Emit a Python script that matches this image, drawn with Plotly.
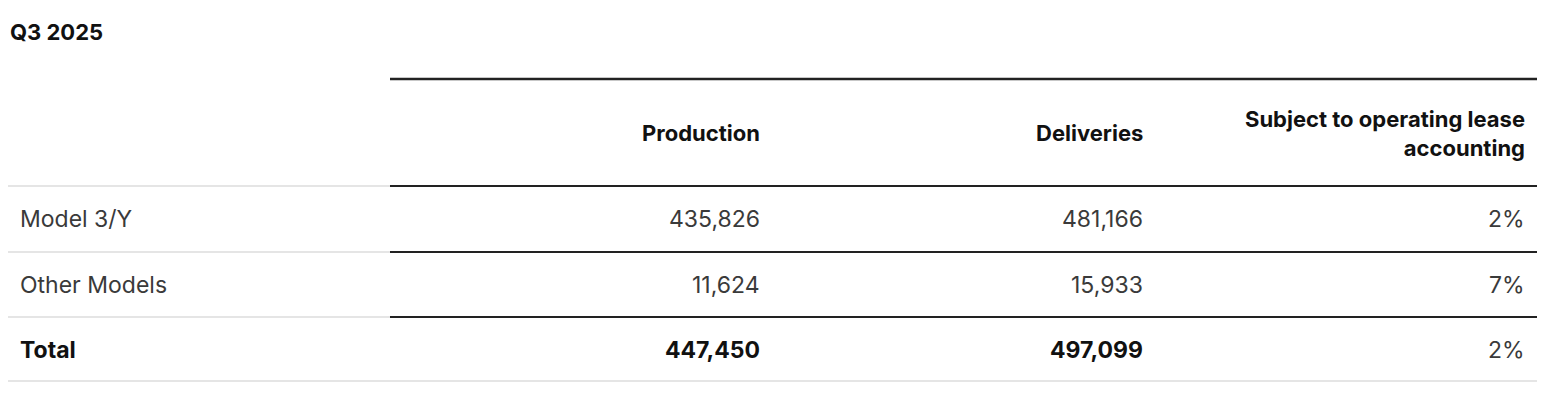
import plotly.graph_objects as go

title = "Q3 2025"
columns = ["Production", "Deliveries", "Subject to operating lease<br>accounting"]
rows = ["Model 3/Y", "Other Models", "Total"]
production = ["435,826", "11,624", "447,450"]
deliveries = ["481,166", "15,933", "497,099"]
lease = ["2%", "7%", "2%"]

W, H = 1554, 404
OFF = 8  # page body margin
col_right = [762 - OFF, 1145 - OFF, 1527 - OFF]
row_y = [219 - OFF, 285 - OFF, 350 - OFF]
row_lines = [186 - OFF, 252 - OFF, 317 - OFF, 381 - OFF]
left, split, right = 8 - OFF, 390 - OFF, 1537 - OFF
font = "Inter, Lato, sans-serif"

fig = go.Figure()
ann = []
ann.append(dict(x=left, y=32 - OFF, text="<b>" + title + "</b>", xanchor="left", yanchor="middle",
                showarrow=False, font=dict(size=22, color="#111", family=font)))
for c, xr in zip(columns, col_right):
    ann.append(dict(x=xr, y=133 - OFF, text="<b>" + c + "</b>", xanchor="right", yanchor="middle", align="right",
                    showarrow=False, font=dict(size=22, color="#111", family=font)))
for i, r in enumerate(rows):
    bold = r == "Total"
    col = "#111" if bold else "#3a3a3a"
    vals = [production[i], deliveries[i]]
    t = (lambda s: "<b>" + s + "</b>") if bold else (lambda s: s)
    ann.append(dict(x=left + 10, y=row_y[i], text=t(r), xanchor="left", yanchor="middle", showarrow=False,
                    font=dict(size=23, color=col, family=font)))
    for v, xr in zip(vals, col_right[:2]):
        ann.append(dict(x=xr, y=row_y[i], text=t(v), xanchor="right", yanchor="middle", showarrow=False,
                        font=dict(size=23, color=col, family=font)))
    ann.append(dict(x=col_right[2], y=row_y[i], text=lease[i], xanchor="right", yanchor="middle", showarrow=False,
                    font=dict(size=23, color="#3a3a3a", family=font)))

shapes = [dict(type="line", x0=split, x1=right, y0=79 - OFF, y1=79 - OFF, line=dict(color="#222", width=2.5))]
for k, y in enumerate(row_lines):
    if k < 3:
        shapes.append(dict(type="line", x0=left, x1=split, y0=y, y1=y, line=dict(color="#ddd", width=1.5)))
        shapes.append(dict(type="line", x0=split, x1=right, y0=y, y1=y, line=dict(color="#222", width=2)))
    else:
        shapes.append(dict(type="line", x0=left, x1=right, y0=y, y1=y, line=dict(color="#ddd", width=1.5)))

fig.update_layout(width=W, height=H, margin=dict(l=0, r=0, t=0, b=0),
                  paper_bgcolor="white", plot_bgcolor="white",
                  xaxis=dict(range=[0, W], visible=False, fixedrange=True),
                  yaxis=dict(range=[H, 0], visible=False, fixedrange=True),
                  annotations=ann, shapes=shapes, showlegend=False)
fig.write_html("out.html")
